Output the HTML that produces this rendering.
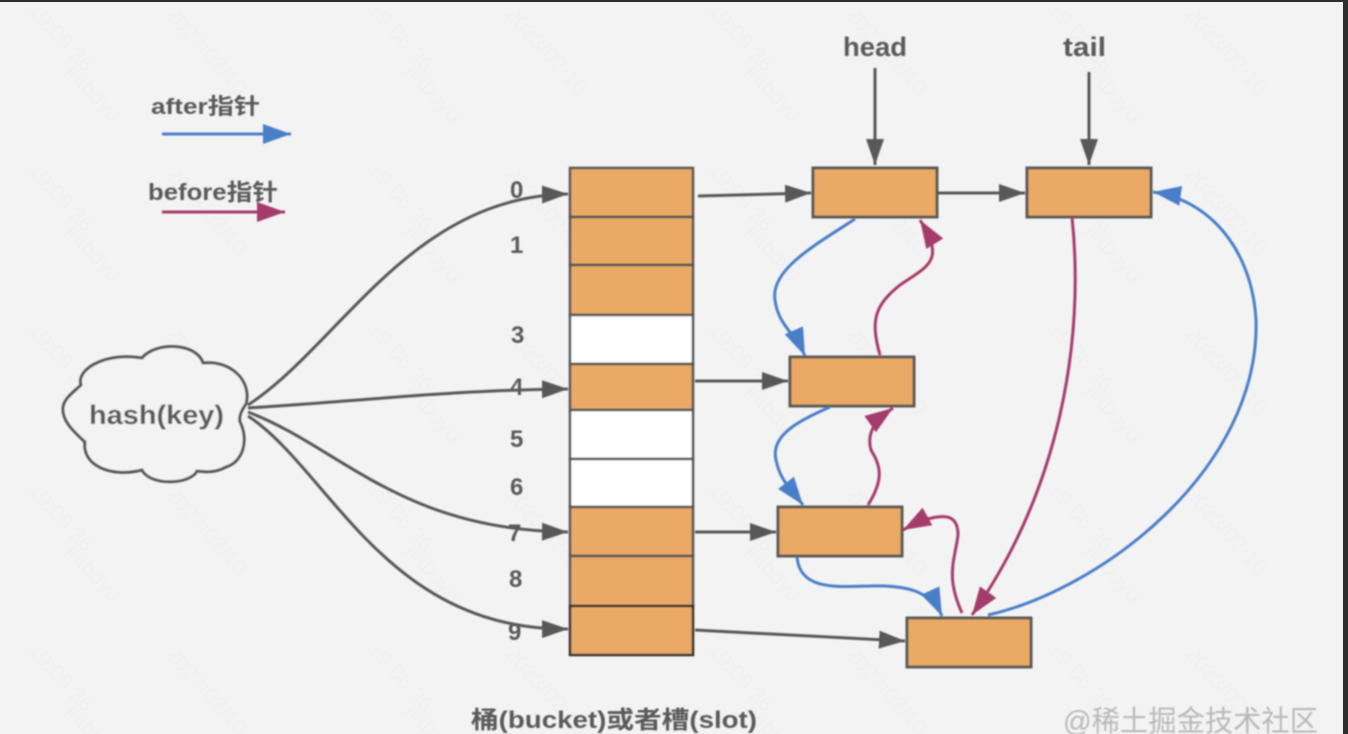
<!DOCTYPE html>
<html><head><meta charset="utf-8"><style>
html,body{margin:0;padding:0;width:1348px;height:734px;overflow:hidden;background:#f3f3f3}
svg{display:block}
text{font-family:"Liberation Sans","Noto Sans CJK SC",sans-serif;font-weight:bold;fill:#5a5a5a}
.wm{font-weight:normal;fill:#f0f0f0;font-size:22px}
</style></head><body>
<svg width="1348" height="734" viewBox="0 0 1348 734" xmlns="http://www.w3.org/2000/svg">
<defs>
<filter id="b" x="-5%" y="-5%" width="110%" height="110%"><feGaussianBlur stdDeviation="0.75"/></filter>
<marker id="g" markerUnits="userSpaceOnUse" markerWidth="28" markerHeight="20" refX="26" refY="9" orient="auto"><path d="M0,0L26,9L0,18Z" fill="#585858"/></marker>
<marker id="bl" markerUnits="userSpaceOnUse" markerWidth="30" markerHeight="22" refX="28" refY="10" orient="auto"><path d="M0,0L28,10L0,20Z" fill="#4a7fc9"/></marker>
<marker id="p" markerUnits="userSpaceOnUse" markerWidth="30" markerHeight="22" refX="28" refY="10" orient="auto"><path d="M0,0L28,10L0,20Z" fill="#a53a6c"/></marker>
<pattern id="wm" width="340" height="160" patternUnits="userSpaceOnUse" x="25" y="10">
<text class="wm" transform="translate(2,0) rotate(48)">19:06:36</text>
<text class="wm" transform="translate(40,62) rotate(48)">jiaboyu</text>
<text class="wm" transform="translate(130,-5) rotate(48)">- 2023/02/10</text>
</pattern>
</defs>
<rect width="1348" height="734" fill="#f3f3f3"/>
<rect width="1348" height="734" fill="url(#wm)"/>
<g filter="url(#b)">
<g stroke="#555" stroke-width="2.5">
<rect x="570" y="168" width="123" height="49" fill="#eba966"/>
<rect x="570" y="217" width="123" height="48" fill="#eba966"/>
<rect x="570" y="265" width="123" height="50" fill="#eba966"/>
<rect x="570" y="315" width="123" height="49" fill="#fff"/>
<rect x="570" y="364" width="123" height="46" fill="#eba966"/>
<rect x="570" y="410" width="123" height="49" fill="#fff"/>
<rect x="570" y="459" width="123" height="48" fill="#fff"/>
<rect x="570" y="507" width="123" height="49" fill="#eba966"/>
<rect x="570" y="556" width="123" height="50" fill="#eba966"/>
<rect x="570" y="606" width="123" height="49" fill="#eba966" stroke="#333"/>
</g>
<g stroke="#5a5a55" stroke-width="3" fill="#eba966">
<rect x="813" y="168" width="124" height="49"/>
<rect x="1027" y="168" width="124" height="49"/>
<rect x="790" y="357" width="124" height="49"/>
<rect x="778" y="507" width="124" height="49"/>
<rect x="907" y="618" width="124" height="49"/>
</g>
<path d="M63,408 C64,398 74,392 81,385 C76,368 108,352 142,358 C155,342 196,342 203,363 C232,360 252,382 246,404 C240,412 239,418 240,422 C249,440 243,462 226,467 C215,473 205,472 197,471 C190,485 150,486 142,470 C110,478 82,465 85,442 C72,430 62,420 63,408 Z" fill="#f3f3f3" stroke="#585858" stroke-width="3"/>
<g fill="none" stroke="#585858" stroke-width="3">
<path d="M248,405 C340,345 410,197 568,194" marker-end="url(#g)"/>
<path d="M248,408 C350,402 450,390 568,389" marker-end="url(#g)"/>
<path d="M248,412 C340,447 400,530 568,532" marker-end="url(#g)"/>
<path d="M248,416 C330,470 385,630 568,629" marker-end="url(#g)"/>
<path d="M698,196 L811,193" marker-end="url(#g)"/>
<path d="M938,193 L1025,193" marker-end="url(#g)"/>
<path d="M695,381 L788,381" marker-end="url(#g)"/>
<path d="M695,532 L776,532" marker-end="url(#g)"/>
<path d="M695,630 L905,641" marker-end="url(#g)"/>
<path d="M875,68 L875,165" marker-end="url(#g)"/>
<path d="M1089,72 L1089,165" marker-end="url(#g)"/>
</g>
<g fill="none" stroke="#4a7fc9" stroke-width="3">
<path d="M162,134 L291,134" marker-end="url(#bl)"/>
<path d="M855,219 C815,245 770,270 775,300 C778,325 795,333 805,356" marker-end="url(#bl)"/>
<path d="M830,407 C800,420 770,435 776,460 C780,480 790,488 803,505" marker-end="url(#bl)"/>
<path d="M797,557 C800,590 835,587 870,586 C905,585 930,590 942,616" marker-end="url(#bl)"/>
<path d="M988,615 C1100,590 1260,470 1256,320 C1252,250 1210,200 1153,192" marker-end="url(#bl)"/>
</g>
<g fill="none" stroke="#a53a6c" stroke-width="3">
<path d="M162,212 L285,212" marker-end="url(#p)"/>
<path d="M880,355 C870,320 875,305 900,285 C930,265 945,260 920,220" marker-end="url(#p)"/>
<path d="M868,505 C885,478 880,465 871,450 C866,432 876,420 893,408" marker-end="url(#p)"/>
<path d="M962,613 C945,575 955,560 958,535 C958,515 945,515 932,518 C920,520 912,525 903,530" marker-end="url(#p)"/>
<path d="M1072,217 C1085,340 1060,490 972,615" marker-end="url(#p)"/>
</g>
<g font-size="24">
<text x="510" y="198">0</text>
<text x="510" y="253">1</text>
<text x="511" y="343">3</text>
<text x="510" y="395">4</text>
<text x="510" y="447">5</text>
<text x="510" y="495">6</text>
<text x="508" y="541">7</text>
<text x="509" y="587">8</text>
<text x="508" y="640">9</text>
</g>
<text x="843" y="56" font-size="27" textLength="64" lengthAdjust="spacingAndGlyphs">head</text>
<text x="1063" y="56" font-size="27" textLength="43" lengthAdjust="spacingAndGlyphs">tail</text>
<text x="89" y="424" font-size="27" textLength="135" lengthAdjust="spacingAndGlyphs">hash(key)</text>
<text x="151" y="114" font-size="22" textLength="109" lengthAdjust="spacingAndGlyphs">after指针</text>
<text x="148" y="200" font-size="23" textLength="130" lengthAdjust="spacingAndGlyphs">before指针</text>
<text x="471" y="728" font-size="24" textLength="286" lengthAdjust="spacingAndGlyphs">桶(bucket)或者槽(slot)</text>
<text x="1063" y="731" font-size="29" textLength="255" lengthAdjust="spacingAndGlyphs" style="font-weight:normal;fill:#b9b9b9">@稀土掘金技术社区</text>
</g>
<rect x="0" y="0" width="1348" height="2" fill="#2d2d2d"/>
<rect x="1343" y="0" width="5" height="734" fill="#2d2d2d"/>
</svg>
</body></html>
